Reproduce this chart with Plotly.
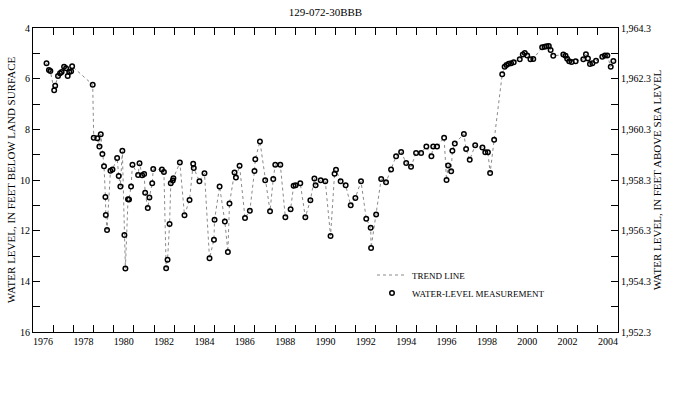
import plotly.graph_objects as go

# ---- data (decimal year, depth to water in feet below land surface) ----
years = [
    1976.67, 1976.79, 1976.86, 1977.05, 1977.10, 1977.24, 1977.34, 1977.42, 1977.54, 1977.64,
    1977.72, 1977.80, 1977.89, 1977.94, 1978.96, 1979.01, 1979.19, 1979.29, 1979.36, 1979.44,
    1979.52, 1979.59, 1979.61, 1979.67, 1979.84, 1979.94, 1980.17, 1980.25, 1980.33, 1980.43,
    1980.53, 1980.58, 1980.71, 1980.76, 1980.86, 1980.93, 1981.21, 1981.28, 1981.41, 1981.51,
    1981.56, 1981.69, 1981.77, 1981.91, 1981.96, 1982.39, 1982.49, 1982.60, 1982.67, 1982.77,
    1982.83, 1982.93, 1982.96, 1983.28, 1983.51, 1983.76, 1983.94, 1983.97, 1984.25, 1984.50,
    1984.75, 1984.97, 1985.00, 1985.25, 1985.51, 1985.66, 1985.74, 1985.99, 1986.06, 1986.24,
    1986.51, 1986.75, 1986.98, 1987.02, 1987.25, 1987.51, 1987.75, 1987.91, 1988.01, 1988.26,
    1988.51, 1988.77, 1988.92, 1989.02, 1989.25, 1989.50, 1989.75, 1989.95, 1990.01, 1990.26,
    1990.49, 1990.75, 1990.95, 1991.02, 1991.25, 1991.50, 1991.75, 1991.98, 1992.26, 1992.52,
    1992.74, 1992.76, 1993.01, 1993.26, 1993.50, 1993.75, 1994.00, 1994.25, 1994.50, 1994.74,
    1994.99, 1995.24, 1995.50, 1995.75, 1995.84, 1996.03, 1996.38, 1996.50, 1996.58, 1996.73,
    1996.79, 1996.91, 1997.36, 1997.47, 1997.65, 1997.92, 1998.28, 1998.42, 1998.55, 1998.66,
    1998.86, 1999.26, 1999.38, 1999.47, 1999.58, 1999.70, 1999.83, 2000.13, 2000.28, 2000.38,
    2000.50, 2000.66, 2000.80, 2001.24, 2001.36, 2001.46, 2001.57, 2001.66, 2001.79, 2002.29,
    2002.40, 2002.48, 2002.58, 2002.70, 2002.90, 2003.28, 2003.41, 2003.51, 2003.61, 2003.73,
    2003.91, 2004.22, 2004.35, 2004.47, 2004.64, 2004.77,
]
depth_ft = [
    5.39, 5.66, 5.70, 6.46, 6.28, 5.89, 5.79, 5.74, 5.53, 5.59,
    5.89, 5.74, 5.71, 5.51, 6.24, 8.33, 8.35, 8.68, 8.19, 8.97,
    9.46, 10.67, 11.38, 11.97, 9.63, 9.59, 9.13, 9.84, 10.26, 8.85,
    12.17, 13.49, 10.76, 10.77, 10.26, 9.40, 9.80, 9.34, 9.81, 9.76,
    10.50, 11.11, 10.69, 10.13, 9.57, 9.59, 9.68, 13.48, 13.15, 11.74,
    10.13, 10.02, 9.93, 9.31, 11.39, 10.79, 9.36, 9.53, 10.05, 9.73,
    13.09, 12.36, 11.57, 10.26, 11.64, 12.84, 10.93, 9.70, 9.90, 9.44,
    11.50, 11.21, 9.64, 9.18, 8.48, 10.01, 11.23, 9.96, 9.40, 9.40,
    11.47, 11.15, 10.23, 10.21, 10.13, 11.47, 10.80, 9.94, 10.21, 10.01,
    10.05, 12.21, 9.75, 9.60, 10.05, 10.21, 11.00, 10.71, 10.05, 11.53,
    11.88, 12.68, 11.36, 9.96, 10.09, 9.59, 9.06, 8.89, 9.33, 9.48,
    8.93, 8.93, 8.68, 9.06, 8.68, 8.68, 8.33, 10.00, 9.43, 9.65,
    8.85, 8.56, 8.18, 8.78, 9.20, 8.63, 8.72, 8.90, 8.90, 9.72,
    8.41, 5.83, 5.53, 5.46, 5.41, 5.39, 5.35, 5.23, 5.05, 4.99,
    5.09, 5.23, 5.22, 4.76, 4.74, 4.72, 4.71, 4.87, 5.10, 5.05,
    5.10, 5.21, 5.31, 5.34, 5.31, 5.23, 5.04, 5.20, 5.42, 5.39,
    5.29, 5.13, 5.09, 5.09, 5.53, 5.30,
]
land_surface_elev = 1968.3
elevation = [land_surface_elev - d for d in depth_ft]

title_text = "129-072-30BBB"
left_title = "WATER LEVEL, IN FEET BELOW LAND SURFACE"
right_title = "WATER LEVEL, IN FEET ABOVE SEA LEVEL"
year_labels = [str(y) for y in range(1976, 2005, 2)]
depth_ticks = list(range(4, 17))
elev_ticks = [1952.3 + i for i in range(13)]

FONT = "Liberation Serif"
TICK = 10

fig = go.Figure()
fig.add_trace(go.Scatter(
    x=years, y=depth_ft, mode="lines", name="TREND LINE",
    line=dict(color="#8a8a8a", width=1, dash="3px,3px"),
    xaxis="x", yaxis="y", legend="legend",
))
fig.add_trace(go.Scatter(
    x=years, y=depth_ft, mode="markers", name="WATER-LEVEL MEASUREMENT",
    marker=dict(symbol="circle-open", size=4.5, color="black", line=dict(width=1.5, color="black")),
    xaxis="x2", yaxis="y", legend="legend2",
))
fig.add_trace(go.Scatter(
    x=years, y=elevation, mode="markers", showlegend=False, hoverinfo="skip",
    marker=dict(opacity=0), xaxis="x", yaxis="y2",
))

xr = [1976, 2005]
fig.update_layout(
    width=675, height=418,
    margin=dict(l=33, r=57, t=28, b=86, autoexpand=False),
    paper_bgcolor="white", plot_bgcolor="white",
    font=dict(family=FONT, color="black", size=TICK),
    title=dict(text=title_text, x=(33 + 618) / 2 / 675, xanchor="center",
               y=1 - 12 / 418, yanchor="middle", yref="container",
               font=dict(family=FONT, size=11, color="black")),
    xaxis=dict(
        range=xr, tickmode="array",
        tickvals=[int(s) + 0.5 for s in year_labels], ticktext=year_labels,
        ticks="", showgrid=False, zeroline=False, automargin=False,
        showline=True, linecolor="black", linewidth=1, mirror=True,
        tickfont=dict(family=FONT, size=TICK),
    ),
    xaxis2=dict(
        range=xr, overlaying="x", side="bottom", anchor="y",
        tickmode="array", tickvals=list(range(1976, 2006)),
        ticks="inside", ticklen=7, tickcolor="black", tickwidth=1,
        showticklabels=False, showgrid=False, zeroline=False, automargin=False,
        showline=False, mirror="ticks",
    ),
    yaxis=dict(
        range=[16, 4], tickmode="array", tickvals=depth_ticks,
        ticktext=[str(v) if v % 2 == 0 else "" for v in depth_ticks],
        ticks="inside", ticklen=7, tickcolor="black", automargin=False,
        showgrid=False, zeroline=False, showline=True, linecolor="black", linewidth=1,
        title=dict(text=left_title, font=dict(family=FONT, size=11), standoff=2),
        tickfont=dict(family=FONT, size=TICK),
    ),
    yaxis2=dict(
        range=[1952.3, 1964.3], overlaying="y", side="right", anchor="x",
        tickmode="array", tickvals=elev_ticks,
        ticktext=[f"{v:,.1f}" if i % 2 == 0 else "" for i, v in enumerate(elev_ticks)],
        ticks="inside", ticklen=7, tickcolor="black", automargin=False,
        showgrid=False, zeroline=False, showline=True, linecolor="black", linewidth=1,
        title=dict(text=right_title, font=dict(family=FONT, size=11), standoff=2),
        tickfont=dict(family=FONT, size=TICK),
    ),
    legend=dict(
        x=(372 - 33) / 585, xanchor="left", y=(332 - 275) / 304, yanchor="middle",
        bgcolor="rgba(0,0,0,0)", font=dict(family=FONT, size=9),
    ),
    legend2=dict(
        x=(372 - 33) / 585, xanchor="left", y=(332 - 293) / 304, yanchor="middle",
        bgcolor="rgba(0,0,0,0)", font=dict(family=FONT, size=9),
    ),
    showlegend=True,
)

fig.write_html("out.html", config={"displayModeBar": False},
               post_script="document.body.style.margin='0';")
